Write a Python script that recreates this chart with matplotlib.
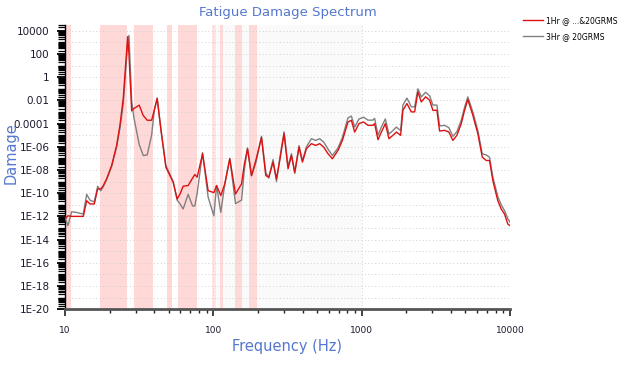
import numpy as np
import matplotlib
matplotlib.use("Agg")
import matplotlib.pyplot as plt
from matplotlib.ticker import FixedLocator, LogLocator, FuncFormatter, NullFormatter

# Frequency (Hz) points
freq = [10.0, 10.47, 11.09, 11.86, 13.28, 14.0, 14.74, 15.75, 16.61, 17.4,
        18.03, 19.09, 20.63, 22.29, 23.46, 24.7, 25.63, 26.44, 26.98, 28.14,
        29.15, 31.64, 33.68, 35.83, 38.36, 40.06, 41.83, 44.31, 47.87, 53.62,
        57.04, 59.48, 62.6, 67.65, 72.43, 75.06, 77.8, 84.6, 92.26, 100.8,
        105.1, 112.3, 119.5, 129.1, 141.1, 154.9, 161.8, 170.0, 180.8, 193.3,
        211.2, 225.7, 236.4, 252.7, 266.4, 280.4, 299.8, 318.9, 336.2, 353.9,
        378.2, 398.7, 424.2, 458.5, 490.0, 521.5, 554.8, 593.1, 634.9, 692.5,
        741.3, 808.6, 852.3, 897.3, 959.0, 1031, 1103, 1192, 1223, 1288,
        1358, 1444, 1527, 1625, 1713, 1831, 1897, 2019, 2161, 2275,
        2394, 2523, 2698, 2871, 3021, 3215, 3352, 3623, 3871, 4119,
        4384, 4694, 4939, 5197, 5617, 6071, 6500, 6914, 7278, 7661,
        8277, 8724, 9183, 9666, 10000]

# log10 of damage, 1Hr @ ...&20GRMS (red)
red_log = [-12.23, -11.95, -12.0, -12.0, -12.0, -10.65, -10.93, -10.93, -9.63, -9.63,
           -9.4, -8.76, -7.61, -5.88, -4.15, -1.83, 1.05, 3.5, 2.0, -2.9,
           -2.7, -2.41, -3.3, -3.71, -3.71, -2.8, -1.83, -4.5, -7.76, -9.06,
           -10.5, -10.1, -9.4, -9.34, -8.7, -8.39, -8.62, -6.6, -9.78, -9.95,
           -9.34, -10.2, -9.2, -7.03, -10.07, -9.2, -7.5, -6.17, -8.48, -7.18,
           -5.2, -8.48, -8.62, -7.32, -8.76, -7.18, -4.87, -7.9, -6.75, -8.19,
           -6.03, -7.32, -6.17, -5.73, -5.88, -5.73, -6.03, -6.6, -7.03, -6.31,
           -5.45, -3.86, -3.71, -4.73, -4.0, -3.86, -4.15, -4.15, -4.0, -5.39,
           -4.73, -4.0, -5.3, -5.01, -4.73, -5.01, -2.85, -2.27, -2.99, -2.99,
           -1.26, -2.13, -1.69, -1.98, -2.85, -2.85, -4.64, -4.58, -4.73, -5.45,
           -5.01, -4.0, -2.85, -1.92, -3.28, -4.87, -6.89, -7.18, -7.18, -8.91,
           -10.65, -11.36, -11.8, -12.66, -12.8]

# log10 of damage, 3Hr @ 20GRMS (gray)
gray_log = [-12.1, -12.8, -11.6, -11.65, -11.8, -10.1, -10.6, -10.75, -9.4, -9.8,
            -9.5, -8.8, -7.7, -6.0, -4.4, -2.3, 0.5, 2.8, 3.6, -2.0,
            -3.5, -5.8, -6.75, -6.7, -5.0, -2.8, -1.8, -4.5, -7.6, -9.0,
            -10.6, -10.9, -11.36, -10.1, -11.1, -11.1, -10.0, -6.5, -10.35, -11.94,
            -9.34, -11.65, -9.2, -7.0, -10.9, -10.6, -8.0, -6.1, -8.5, -7.4,
            -5.1, -8.2, -8.7, -7.1, -9.0, -7.0, -4.7, -7.7, -6.6, -8.3,
            -5.9, -7.2, -6.0, -5.3, -5.45, -5.3, -5.6, -6.2, -6.75, -6.1,
            -5.2, -3.5, -3.35, -4.3, -3.6, -3.45, -3.7, -3.7, -3.55, -5.0,
            -4.3, -3.6, -4.9, -4.6, -4.3, -4.6, -2.4, -1.8, -2.55, -2.55,
            -1.0, -1.7, -1.3, -1.6, -2.4, -2.4, -4.2, -4.15, -4.35, -5.1,
            -4.7, -3.7, -2.6, -1.7, -3.0, -4.6, -6.6, -6.7, -6.9, -8.6,
            -10.3, -11.0, -11.5, -12.2, -12.5]

# highlighted frequency bands (Hz)
pink_bands = [(10, 11), (17.2, 26.3), (29.3, 39), (48.6, 52.5), (57.9, 77.4),
              (110.6, 115.9), (140, 155), (174, 196)]
faint_band = (98, 103.5)
gray_band = (100, 1000)

blue = "#5577D0"

fig = plt.figure(figsize=(6.25, 3.65), dpi=100)
ax = fig.add_axes([0.104, 0.153, 0.712, 0.779])

ax.axvspan(*gray_band, color="#FAFAFA", zorder=0, lw=0)
for lo, hi in pink_bands:
    ax.axvspan(lo, hi, color="#FFD8D8", zorder=0.5, lw=0)
ax.axvspan(*faint_band, color="#FFE6E6", zorder=0.5, lw=0)

# dotted decade grid
for e in range(-20, 5):
    ax.axhline(10.0 ** e, color="#D0D0D0", ls=(0, (1, 2.5)), lw=0.7, zorder=1)
for f in [100, 1000]:
    ax.axvline(f, color="#D0D0D0", ls=(0, (1, 2.5)), lw=0.7, zorder=1)

ax.plot(freq, 10.0 ** np.array(gray_log), color="#808080", lw=1.0, zorder=3,
        label="3Hr @ 20GRMS")
ax.plot(freq, 10.0 ** np.array(red_log), color="#DD1111", lw=1.0, zorder=4,
        label="1Hr @ ...&20GRMS")

ax.set_xscale("log")
ax.set_yscale("log")
ax.set_xlim(10, 10000)
ax.set_ylim(1e-20, 3.3e4)


def ylab(v, pos):
    e = int(round(np.log10(v)))
    if e >= 0:
        return str(10 ** e)
    if e >= -4:
        return f"{10.0 ** e:.{-e}f}"
    return f"1E-{-e:02d}"


ax.yaxis.set_major_locator(FixedLocator(10.0 ** np.arange(-20, 5, 2)))
ax.yaxis.set_major_formatter(FuncFormatter(ylab))
ax.yaxis.set_minor_locator(LogLocator(base=10, subs=np.arange(1, 10) * 1.0, numticks=200))
ax.yaxis.set_minor_formatter(NullFormatter())
ax.xaxis.set_major_locator(FixedLocator([10, 100, 1000, 10000]))
ax.xaxis.set_major_formatter(FuncFormatter(lambda v, p: str(int(v))))
ax.xaxis.set_minor_locator(LogLocator(base=10, subs=np.arange(2, 10) * 1.0, numticks=50))
ax.xaxis.set_minor_formatter(NullFormatter())

ax.tick_params(axis="y", which="major", length=6, width=1.3, color="black",
               labelsize=7.5, labelcolor="#1A1A2E", pad=5)
ax.tick_params(axis="y", which="minor", length=5, width=0.9, color="black")
ax.tick_params(axis="x", which="major", length=5, width=1.2, color="#222",
               labelsize=6.5, labelcolor="#1A1A2E", pad=7)
ax.tick_params(axis="x", which="minor", length=3, width=1.0, color="#222")

for s in ["top", "right"]:
    ax.spines[s].set_visible(False)
ax.spines["left"].set_color("black")
ax.spines["left"].set_linewidth(1.0)
ax.spines["bottom"].set_color("#555555")
ax.spines["bottom"].set_linewidth(2.0)

ax.set_title("Fatigue Damage Spectrum", color=blue, fontsize=9.5, pad=6)
ax.set_xlabel("Frequency (Hz)", color=blue, fontsize=10.5, labelpad=3)
ax.set_ylabel("Damage", color=blue, fontsize=10.5)
ax.yaxis.set_label_coords(-0.105, 0.55)

handles, labels = ax.get_legend_handles_labels()
fig.legend(handles[::-1], labels[::-1], loc="upper left", bbox_to_anchor=(0.832, 0.965),
           frameon=False, fontsize=5.5, handlelength=2.6, handletextpad=0.4,
           labelspacing=0.9, borderaxespad=0)

fig.savefig("out.png", dpi=100)
